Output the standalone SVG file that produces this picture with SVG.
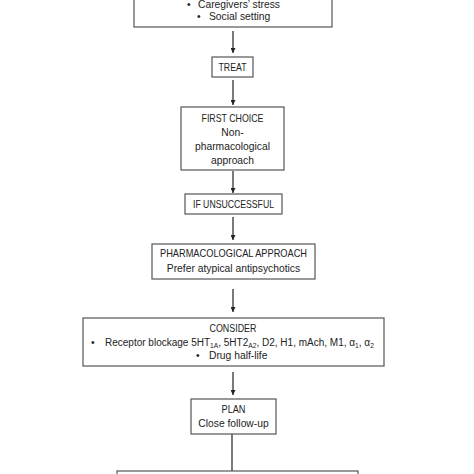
<svg xmlns="http://www.w3.org/2000/svg" width="474" height="474" viewBox="0 0 474 474">
<defs>
<style>
.box{fill:#fff;stroke:#555;stroke-width:1.2}
.t{font-family:"Liberation Sans",Arial,sans-serif;font-size:10.3px;fill:#222;text-anchor:middle}
.tl{font-family:"Liberation Sans",Arial,sans-serif;font-size:10.3px;fill:#222;text-anchor:start}
.sub{font-size:6.7px}
.c{stroke:#222;stroke-width:1.2;fill:none}
</style>
<marker id="ah" viewBox="0 0 10 10" refX="10" refY="5" markerWidth="6" markerHeight="5" orient="auto" markerUnits="userSpaceOnUse">
<path d="M0,0 L10,5 L0,10 z" fill="#222"/>
</marker>
</defs>
<rect width="474" height="474" fill="#fff"/>
<g id="connectors">
<line class="c" x1="233" y1="31" x2="233" y2="53" marker-end="url(#ah)"/>
<line class="c" x1="233" y1="80" x2="233" y2="105" marker-end="url(#ah)"/>
<line class="c" x1="233" y1="171" x2="233" y2="193" marker-end="url(#ah)"/>
<line class="c" x1="233" y1="217" x2="233" y2="240" marker-end="url(#ah)"/>
<line class="c" x1="233" y1="289" x2="233" y2="312" marker-end="url(#ah)"/>
<line class="c" x1="233" y1="372" x2="233" y2="395" marker-end="url(#ah)"/>
<line class="c" x1="232" y1="434" x2="232" y2="471"/>
</g>
<g id="assess">
<rect class="box" x="134" y="-20" width="198" height="47"/>
<text class="tl" x="187" y="8">•</text>
<text class="tl" x="198" y="8">Caregivers’ stress</text>
<text class="tl" x="197" y="20">•</text>
<text class="tl" x="209" y="20">Social setting</text>
</g>
<g id="treat">
<rect class="box" x="212" y="57" width="41" height="20"/>
<text class="t" x="232.5" y="71" textLength="28" lengthAdjust="spacingAndGlyphs">TREAT</text>
</g>
<g id="first-choice">
<rect class="box" x="181" y="107" width="103" height="63"/>
<text class="t" x="232.5" y="122" textLength="62" lengthAdjust="spacingAndGlyphs">FIRST CHOICE</text>
<text class="t" x="232.5" y="136">Non-</text>
<text class="t" x="232.5" y="150">pharmacological</text>
<text class="t" x="232.5" y="164">approach</text>
</g>
<g id="if-unsuccessful">
<rect class="box" x="185" y="194" width="97" height="20"/>
<text class="t" x="233.5" y="208" textLength="81" lengthAdjust="spacingAndGlyphs">IF UNSUCCESSFUL</text>
</g>
<g id="pharmacological">
<rect class="box" x="152" y="244" width="163" height="35"/>
<text class="t" x="233.5" y="257" textLength="147" lengthAdjust="spacingAndGlyphs">PHARMACOLOGICAL APPROACH</text>
<text class="t" x="233.5" y="272">Prefer atypical antipsychotics</text>
</g>
<g id="consider">
<rect class="box" x="83" y="318" width="301" height="48"/>
<text class="t" x="233" y="332" textLength="47" lengthAdjust="spacingAndGlyphs">CONSIDER</text>
<text class="tl" x="91" y="346">•</text>
<text class="tl" x="105" y="346" style="font-size:10px">Receptor blockage 5HT<tspan class="sub" dy="2">1A</tspan><tspan dy="-2">, 5HT2</tspan><tspan class="sub" dy="2">A2</tspan><tspan dy="-2">, D2, H1, mAch, M1, α</tspan><tspan class="sub" dy="2">1</tspan><tspan dy="-2">, α</tspan><tspan class="sub" dy="2">2</tspan></text>
<text class="tl" x="196" y="359">•</text>
<text class="tl" x="209" y="359">Drug half-life</text>
</g>
<g id="plan">
<rect class="box" x="191" y="399" width="85" height="35"/>
<text class="t" x="233.5" y="413" textLength="24" lengthAdjust="spacingAndGlyphs">PLAN</text>
<text class="t" x="233.5" y="427">Close follow-up</text>
</g>
<g id="next">
<rect class="box" x="117" y="471" width="241" height="20"/>
</g>
</svg>
